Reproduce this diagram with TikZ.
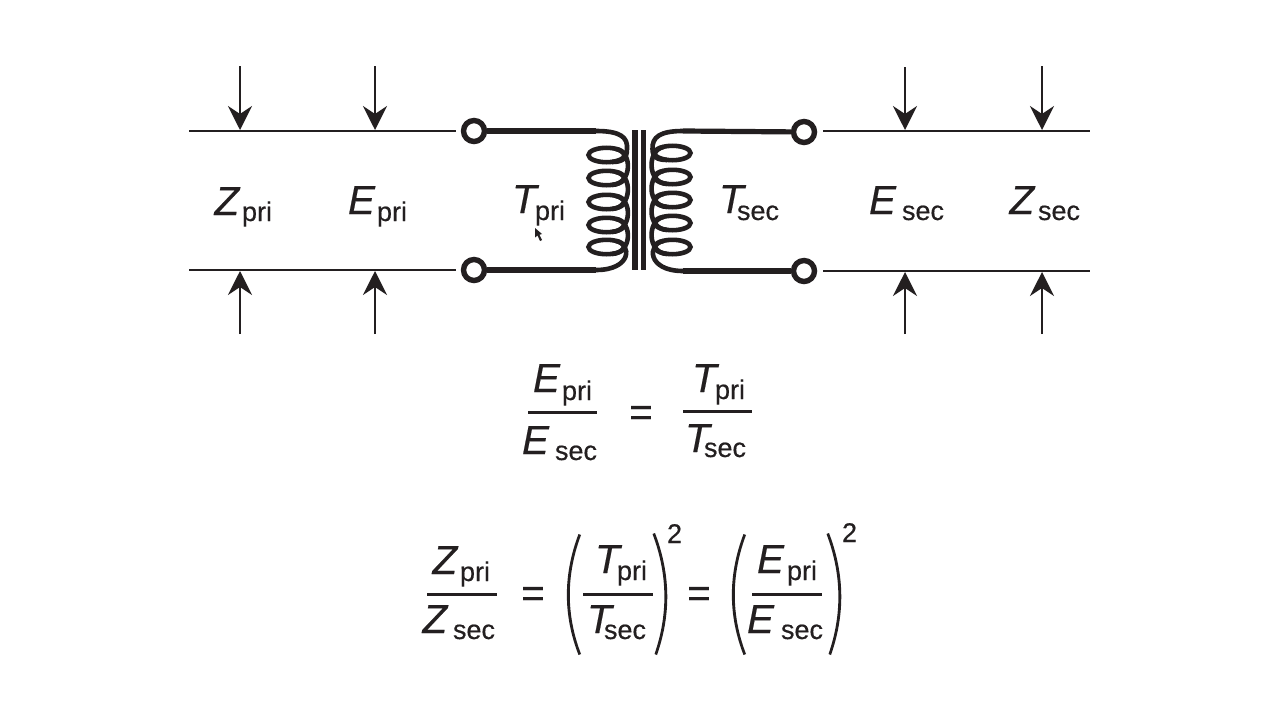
\documentclass[tikz,border=0pt]{standalone}
\usepackage{fontspec}
\setmainfont[FakeBold=0.4]{Liberation Sans}
\usetikzlibrary{arrows.meta}
\definecolor{ink}{HTML}{231F20}
\tikzset{
  every node/.style={text=ink},
  rail/.style={draw=ink,line width=2.4pt},
  pointer/.style={draw=ink,line width=2.2pt,-{Stealth[length=24pt,width=24pt,inset=8pt]}},
  lead/.style={draw=ink,line width=5.2pt},
  wire/.style={draw=ink,line width=4.6pt},
  terminal/.style={circle,draw=ink,fill=white,line width=5.4pt,minimum size=21pt,inner sep=0pt},
  corebar/.style={fill=ink,draw=none},
  fracbar/.style={draw=ink,line width=3pt},
  lab/.style={anchor=base west,inner sep=0pt,outer sep=0pt},
  big/.style={font=\fontsize{40.5}{40}\selectfont},
  sub/.style={font=\fontsize{27}{28}\selectfont},
  parenfill/.style={fill=ink,draw=none}
}
% letter x, baseline y; subscript x, baseline y
\newcommand{\qty}[7]{%
  \node[lab,big] (#1) at (#2,#3) {\textit{#4}};
  \node[lab,sub] (#1s) at (#5,#6) {#7};}
\begin{document}
\begin{tikzpicture}[x=1pt,y=-1pt]
\useasboundingbox[fill=white] (0,0) rectangle (1280,720);
% terminals
\node[terminal] (t1) at (474,131) {};
\node[terminal] (t2) at (474,270) {};
\node[terminal] (t3) at (804,132) {};
\node[terminal] (t4) at (804,271) {};
% rails
\coordinate (l1a) at (189,131); \coordinate (l1b) at (456,131);
\coordinate (l2a) at (189,270); \coordinate (l2b) at (456,270);
\coordinate (r1a) at (823,131); \coordinate (r1b) at (1090,131);
\coordinate (r2a) at (823,271); \coordinate (r2b) at (1090,271);
\draw[rail] (l1a) -- (l1b);
\draw[rail] (l2a) -- (l2b);
\draw[rail] (r1a) -- (r1b);
\draw[rail] (r2a) -- (r2b);
% pointers
\foreach \n/\x/\ya/\yb in {a/240/66/130,b/375/66/130,c/905/67/130,d/1042/66/130,e/240/334/271,f/375/334/271,g/905/334/272,h/1042/334/272}{
  \coordinate (p\n1) at (\x,\ya); \coordinate (p\n2) at (\x,\yb);
  \draw[pointer] (p\n1) -- (p\n2);
}
% leads
\coordinate (k1) at (596,131); \coordinate (k2) at (596,270);
\coordinate (k3) at (683,131); \coordinate (k4) at (683,271);
\draw[lead] (t1) -- (k1);
\draw[lead] (t2) -- (k2);
\draw[lead] (t3) -- (k3);
\draw[lead] (t4) -- (k4);
% core
\fill[corebar] (632,130) rectangle (638,270);
\fill[corebar] (641,130) rectangle (646,270);
% primary winding
\foreach \y in {155,178,202,225,247}{
  \draw[wire] (606.5,\y) ellipse [x radius=18,y radius=7.2];
}
\draw[wire] (k1) .. controls (620,131) and (628,137) .. (627,149) .. controls (627,159) and (622,162) .. (612,{155+7});
\foreach \a/\b in {155/178,178/202,202/225,225/247}{
  \draw[wire] (616,\a-6) .. controls (633,\a-3) and (632,\b+6) .. (612,\b+7);
}
\draw[wire] (616,247-6) .. controls (632,247-3) and (632,270) .. (k2);
% secondary winding
\foreach \y in {153,177,200,223,247}{
  \draw[wire] (672.5,\y) ellipse [x radius=18,y radius=7.2];
}
\draw[wire] (k3) .. controls (660,131) and (652,137) .. (652.5,149) .. controls (652.5,157) and (657,160) .. (667,{153+7});
\foreach \a/\b in {153/177,177/200,200/223,223/247}{
  \draw[wire] (663.5,\a-6) .. controls (647,\a-3) and (647,\b+6) .. (667,\b+7);
}
\draw[wire] (663.5,247-6) .. controls (647,247-3) and (647,271) .. (k4);
% labels, diagram
\qty{a1}{214.5}{215}{Z}{242}{221}{pri}
\qty{a2}{348}{214}{E}{377}{221}{pri}
\qty{a3}{512}{213}{T}{535}{220}{pri}
\qty{a4}{719}{213}{T}{737}{220}{sec}
\qty{a5}{869}{214}{E}{902}{220}{sec}
\qty{a6}{1009.5}{214}{Z}{1038}{220}{sec}
% cursor
\fill[ink] (535,228) -- (535,237.5) -- (537.5,235.5) -- (540,241) -- (542,240) -- (539.5,234.8) -- (542,234) -- cycle;
% first equation
\qty{b1}{533}{392}{E}{562}{400}{pri}
\qty{b2}{522}{454}{E}{555}{460}{sec}
\coordinate (b3) at (528,412); \coordinate (b4) at (597,412);
\draw[fracbar] (b3) -- (b4);
\node[big,anchor=center] (b5) at (641,416) {=};
\qty{b6}{692}{392}{T}{715}{399}{pri}
\qty{b7}{685}{452}{T}{704}{457}{sec}
\coordinate (b8) at (683,411); \coordinate (b9) at (752,411);
\draw[fracbar] (b8) -- (b9);
% second equation
\qty{c1}{432.5}{574}{Z}{460}{581}{pri}
\qty{c2}{422.5}{633}{Z}{453}{639}{sec}
\coordinate (c3) at (427,594); \coordinate (c4) at (497,594);
\draw[fracbar] (c3) -- (c4);
\node[big,anchor=center] (c5) at (533,597) {=};
\qty{c6}{595}{573}{T}{617}{580}{pri}
\qty{c7}{587}{633}{T}{604}{639}{sec}
\coordinate (c8) at (583,594); \coordinate (c9) at (653,594);
\draw[fracbar] (c8) -- (c9);
\node[big,anchor=center] (c10) at (699,597) {=};
\qty{c11}{757}{573}{E}{787}{580}{pri}
\qty{c12}{747}{633}{E}{781}{639}{sec}
\coordinate (c13) at (752,594); \coordinate (c14) at (822,594);
\draw[fracbar] (c13) -- (c14);
\node[lab,sub] (c15) at (667,543) {2};
\node[lab,sub] (c16) at (842,542) {2};
% parentheses
\fill[parenfill] (581,535) .. controls (566,575) and (566,615) .. (581,654) -- (578.5,655) .. controls (563,615) and (563,575) .. (578.5,534) -- cycle;
\fill[parenfill] (652.5,534) .. controls (668,575) and (668,615) .. (654.5,654) -- (657,655) .. controls (671,615) and (671,575) .. (655,533) -- cycle;
\fill[parenfill] (746,535) .. controls (731,575) and (731,615) .. (746,654) -- (743.5,655) .. controls (728,615) and (728,575) .. (743.5,534) -- cycle;
\fill[parenfill] (826.5,534) .. controls (842,575) and (842,615) .. (828.5,654) -- (831,655) .. controls (845,615) and (845,575) .. (829,533) -- cycle;
\end{tikzpicture}
\end{document}
